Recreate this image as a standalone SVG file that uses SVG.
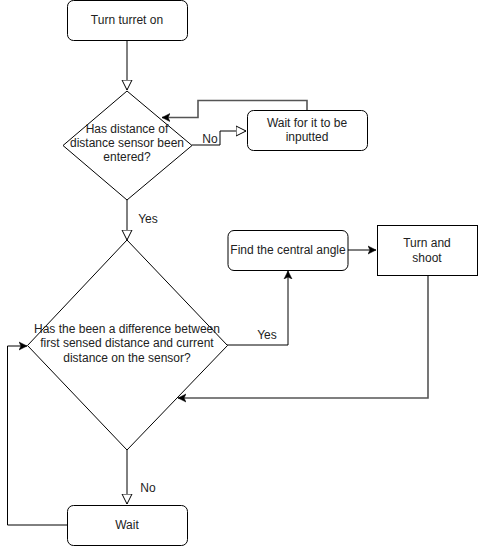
<svg xmlns="http://www.w3.org/2000/svg" width="478" height="546" viewBox="0 0 478 546">
<style>
.box{fill:#fff;stroke:#000;stroke-width:1}
.t{font-family:"Liberation Sans",Arial,sans-serif;font-size:12px;fill:#222;text-anchor:middle}
.c{fill:none;stroke:#000;stroke-width:1}
.g{fill:none;stroke:#555;stroke-width:1.6}
</style>
<defs>
<marker id="open" markerWidth="12" markerHeight="12" refX="10" refY="5" orient="auto" markerUnits="userSpaceOnUse" viewBox="0 0 12 10">
<path d="M0,0 L10,5 L0,10 Z" fill="#fff" stroke="#000" stroke-width="1"/>
</marker>
<marker id="fill" markerWidth="10" markerHeight="10" refX="8" refY="4" orient="auto" markerUnits="userSpaceOnUse" viewBox="0 0 10 8">
<path d="M0,0 L8,4 L0,8 L2,4 Z" fill="#000" stroke="#000" stroke-width="0.5"/>
</marker>
</defs>
<rect width="478" height="546" fill="#fff"/>
<g id="connectors">
<path class="c" d="M127,40 V90" marker-end="url(#open)"/>
<path class="c" d="M192,145 H220 V131 H246" marker-end="url(#open)"/>
<path class="g" d="M307,110 V100.5 H198 V117.5 H162" marker-end="url(#fill)"/>
<path class="c" d="M127,200 V240" marker-end="url(#open)"/>
<path class="c" d="M227,345 H288 V271" marker-end="url(#fill)"/>
<path class="c" d="M348,250 H376" marker-end="url(#fill)"/>
<path class="g" d="M428,265 V398 H178" marker-end="url(#fill)"/>
<path class="c" d="M127,450 V504" marker-end="url(#open)"/>
<path class="c" d="M67,525 H7.5 V346 H27" marker-end="url(#fill)"/>
<text class="t" x="210" y="143">No</text>
<text class="t" x="148" y="223">Yes</text>
<text class="t" x="267" y="339">Yes</text>
<text class="t" x="148" y="492">No</text>
</g>
<g id="start">
<rect class="box" x="67.5" y="0.5" width="120" height="40" rx="6"/>
<text class="t" x="127" y="24">Turn turret on</text>
</g>
<g id="decision1">
<polygon class="box" points="127,91 192,145.5 127,200 63,145.5"/>
<text class="t" x="127" y="133">Has distance of</text>
<text class="t" x="127" y="147">distance sensor been</text>
<text class="t" x="127" y="161">entered?</text>
</g>
<g id="waitInput">
<rect class="box" x="247.5" y="110.5" width="120" height="40" rx="6"/>
<text class="t" x="307" y="127">Wait for it to be</text>
<text class="t" x="307" y="141">inputted</text>
</g>
<g id="decision2">
<polygon class="box" points="127,240 227.5,345.5 127,450 27.5,345.5"/>
<text class="t" x="127" y="333">Has the been a difference between</text>
<text class="t" x="127" y="347">first sensed distance and current</text>
<text class="t" x="127" y="362">distance on the sensor?</text>
</g>
<g id="findAngle">
<rect class="box" x="228" y="230.5" width="120" height="40" rx="6"/>
<text class="t" x="288" y="254">Find the central angle</text>
</g>
<g id="turnShoot">
<rect class="box" x="377.5" y="225.5" width="100" height="50"/>
<text class="t" x="427" y="247">Turn and</text>
<text class="t" x="427" y="262">shoot</text>
</g>
<g id="wait">
<rect class="box" x="67.5" y="505.5" width="120" height="40" rx="6"/>
<text class="t" x="127" y="529">Wait</text>
</g>
</svg>
